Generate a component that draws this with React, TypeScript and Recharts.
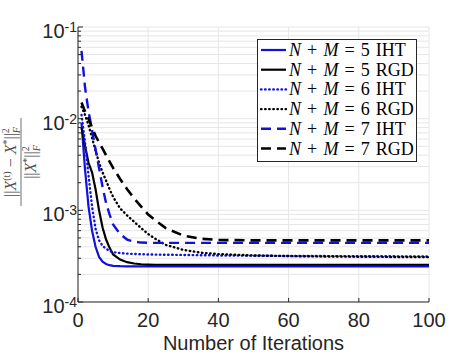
import { LineChart, Line, XAxis, YAxis, CartesianGrid, Legend } from 'recharts'

// iterations sampled on the x axis
const iterations = [1, 2, 3, 4, 5, 6, 7, 8, 9, 10, 12, 14, 16, 18, 20, 22, 25, 30, 35, 40, 50, 60, 70, 80, 90, 100]

// relative error per iteration
const iht5 = [9e-3, 2.8e-3, 1.1e-3, 6e-4, 4e-4, 3.1e-4, 2.75e-4, 2.6e-4, 2.52e-4, 2.48e-4, 2.46e-4, 2.45e-4, 2.45e-4, 2.45e-4, 2.45e-4, 2.45e-4, 2.45e-4, 2.45e-4, 2.45e-4, 2.45e-4, 2.45e-4, 2.45e-4, 2.45e-4, 2.45e-4, 2.45e-4, 2.45e-4]
const rgd5 = [8e-3, 5e-3, 3.3e-3, 2.6e-3, 1.7e-3, 1e-3, 6.5e-4, 4.8e-4, 3.9e-4, 3.3e-4, 2.9e-4, 2.72e-4, 2.63e-4, 2.58e-4, 2.56e-4, 2.55e-4, 2.55e-4, 2.55e-4, 2.55e-4, 2.55e-4, 2.55e-4, 2.55e-4, 2.55e-4, 2.55e-4, 2.55e-4, 2.55e-4]
const iht6 = [1.1e-2, 5.5e-3, 2.4e-3, 1.1e-3, 6.3e-4, 4.7e-4, 4.1e-4, 3.8e-4, 3.6e-4, 3.5e-4, 3.42e-4, 3.37e-4, 3.34e-4, 3.32e-4, 3.3e-4, 3.29e-4, 3.28e-4, 3.26e-4, 3.24e-4, 3.22e-4, 3.2e-4, 3.18e-4, 3.17e-4, 3.16e-4, 3.15e-4, 3.14e-4]
const rgd6 = [1.35e-2, 1.1e-2, 8.5e-3, 6.2e-3, 4.5e-3, 3.3e-3, 2.6e-3, 2.1e-3, 1.7e-3, 1.4e-3, 1.05e-3, 8.8e-4, 7.5e-4, 6.4e-4, 5.5e-4, 4.9e-4, 4.2e-4, 3.7e-4, 3.45e-4, 3.33e-4, 3.22e-4, 3.17e-4, 3.14e-4, 3.12e-4, 3.1e-4, 3.09e-4]
const iht7 = [5.5e-2, 2.2e-2, 1.2e-2, 7.5e-3, 4.6e-3, 2.9e-3, 1.8e-3, 1.2e-3, 9e-4, 7e-4, 5.5e-4, 4.8e-4, 4.55e-4, 4.45e-4, 4.42e-4, 4.42e-4, 4.42e-4, 4.42e-4, 4.42e-4, 4.42e-4, 4.42e-4, 4.42e-4, 4.42e-4, 4.42e-4, 4.42e-4, 4.42e-4]
const rgd7 = [1.5e-2, 1.2e-2, 1e-2, 8e-3, 6.5e-3, 5.5e-3, 4.7e-3, 4e-3, 3.4e-3, 2.9e-3, 2.2e-3, 1.7e-3, 1.35e-3, 1.1e-3, 9e-4, 7.8e-4, 6.4e-4, 5.3e-4, 4.9e-4, 4.75e-4, 4.7e-4, 4.7e-4, 4.7e-4, 4.7e-4, 4.7e-4, 4.7e-4]

// axis ticks (log axis: decades + minor 2..9)
const xTicks = [0, 20, 40, 60, 80, 100]
const yTicks = [
  1e-4, 2e-4, 3e-4, 4e-4, 5e-4, 6e-4, 7e-4, 8e-4, 9e-4,
  1e-3, 2e-3, 3e-3, 4e-3, 5e-3, 6e-3, 7e-3, 8e-3, 9e-3,
  1e-2, 2e-2, 3e-2, 4e-2, 5e-2, 6e-2, 7e-2, 8e-2, 9e-2,
  1e-1,
]

const BLUE = '#1010e0'
const BLACK = '#000000'
const AXIS = '#262626'
const SANS = "'Liberation Sans', Arial, Helvetica, sans-serif"
const SERIF = "'Liberation Serif', 'Times New Roman', serif"

const series = [
  { key: 'iht5', n: 5, alg: 'IHT', values: iht5, color: BLUE, width: 2.2, dash: undefined as string | undefined, cap: 'butt' },
  { key: 'rgd5', n: 5, alg: 'RGD', values: rgd5, color: BLACK, width: 2.2, dash: undefined, cap: 'butt' },
  { key: 'iht6', n: 6, alg: 'IHT', values: iht6, color: BLUE, width: 2.4, dash: '0.5 3.6', cap: 'round' },
  { key: 'rgd6', n: 6, alg: 'RGD', values: rgd6, color: BLACK, width: 2.4, dash: '0.5 3.6', cap: 'round' },
  { key: 'iht7', n: 7, alg: 'IHT', values: iht7, color: BLUE, width: 2.4, dash: '10 6', cap: 'butt' },
  { key: 'rgd7', n: 7, alg: 'RGD', values: rgd7, color: BLACK, width: 2.6, dash: '10 6', cap: 'butt' },
]

const data = iterations.map((it, i) => {
  const row: Record<string, number> = { iter: it }
  series.forEach((s) => {
    row[s.key] = s.values[i]
  })
  return row
})

const isDecade = (v: number) => Math.abs(Math.log10(v) - Math.round(Math.log10(v))) < 1e-6

// y ticks on the left: inward tick marks, 10^k labels
const LeftTick = ({ x, y, payload }: any) => {
  const major = isDecade(payload.value)
  const exp = Math.round(Math.log10(payload.value))
  return (
    <g>
      <line x1={x} x2={x + (major ? 5 : 3)} y1={y} y2={y} stroke={AXIS} strokeWidth={1} />
      {major && (
        <text x={x - 1} y={y + 11} textAnchor="end" fontSize={20} fill={AXIS} fontFamily={SANS}>
          <tspan>10</tspan>
          <tspan dy={-6} fontSize={14}>{String(exp)}</tspan>
        </text>
      )}
    </g>
  )
}

const RightTick = ({ x, y, payload }: any) => {
  const major = isDecade(payload.value)
  return <line x1={x} x2={x - (major ? 5 : 3)} y1={y} y2={y} stroke={AXIS} strokeWidth={1} />
}

const BottomTick = ({ x, y, payload }: any) => (
  <g>
    <line x1={x} x2={x} y1={y} y2={y - 4} stroke={AXIS} strokeWidth={1} />
    <text x={x} y={y + 25} textAnchor="middle" fontSize={20} fill={AXIS} fontFamily={SANS}>
      {payload.value}
    </text>
  </g>
)

const TopTick = ({ x, y }: any) => <line x1={x} x2={x} y1={y} y2={y + 4} stroke={AXIS} strokeWidth={1} />

const renderLegend = () => (
  <svg width={161} height={124} style={{ display: 'block' }}>
    <rect x={0.5} y={0.5} width={159} height={122} fill="#fff" stroke={AXIS} strokeWidth={1} />
    {series.map((s, i) => {
      const cy = 11 + i * 19.7
      return (
        <g key={s.key}>
          <line
            x1={4}
            x2={29}
            y1={cy}
            y2={cy}
            stroke={s.color}
            strokeWidth={s.width}
            strokeDasharray={s.dash}
            strokeLinecap={s.cap as any}
          />
          <text x={32} y={cy + 6} fontSize={18} fill="#000" fontFamily={SERIF} style={{ whiteSpace: 'pre' }} wordSpacing={1.6}>
            <tspan fontStyle="italic">N</tspan>
            <tspan> + </tspan>
            <tspan fontStyle="italic">M</tspan>
            <tspan>{` = ${s.n} ${s.alg}`}</tspan>
          </text>
        </g>
      )
    })}
  </svg>
)

// rotated fraction used as the y axis label
const YLabel = () => (
  <svg width={60} height={356} style={{ position: 'absolute', left: 0, top: 0, pointerEvents: 'none' }}>
    <g transform="translate(21,162) rotate(-90)" fill="#4d4d4d" fontFamily={SERIF}>
      <text x={0} y={-5} textAnchor="middle" fontSize={16} style={{ whiteSpace: 'pre' }}>
        <tspan>||</tspan>
        <tspan fontStyle="italic">X</tspan>
        <tspan dy={-6} fontSize={10}>(t)</tspan>
        <tspan dy={6}> − </tspan>
        <tspan fontStyle="italic">X</tspan>
        <tspan dy={-6} fontSize={10}>*</tspan>
        <tspan dy={6}>||</tspan>
        <tspan dy={-7} fontSize={10}>2</tspan>
        <tspan dx={-5} dy={11} fontSize={10} fontStyle="italic">F</tspan>
      </text>
      <line x1={-44} x2={44} y1={0} y2={0} stroke="#4d4d4d" strokeWidth={0.8} />
      <text x={0} y={15} textAnchor="middle" fontSize={16} style={{ whiteSpace: 'pre' }}>
        <tspan>||</tspan>
        <tspan fontStyle="italic">X</tspan>
        <tspan dy={-6} fontSize={10}>*</tspan>
        <tspan dy={6}>||</tspan>
        <tspan dy={-7} fontSize={10}>2</tspan>
        <tspan dx={-5} dy={11} fontSize={10} fontStyle="italic">F</tspan>
      </text>
    </g>
  </svg>
)

export default function App() {
  return (
    <div style={{ position: 'absolute', left: 0, top: 0, width: 474, height: 356, background: '#fff' }}>
      <LineChart width={474} height={356} data={data} margin={{ top: 27, right: 45, bottom: 24, left: 0 }}>
        <CartesianGrid stroke="#e6e6e6" strokeWidth={1} />
        <XAxis
          dataKey="iter"
          type="number"
          domain={[0, 100]}
          ticks={xTicks}
          height={30}
          tickSize={0}
          tickMargin={0}
          tick={<BottomTick />}
          axisLine={{ stroke: AXIS }}
          label={{ value: 'Number of Iterations', position: 'bottom', offset: 4, fontSize: 20, fill: AXIS, fontFamily: SANS }}
        />
        <XAxis
          xAxisId="top"
          orientation="top"
          type="number"
          domain={[0, 100]}
          ticks={xTicks}
          height={0}
          tickSize={0}
          tickMargin={0}
          tick={<TopTick />}
          axisLine={{ stroke: AXIS }}
        />
        <YAxis
          type="number"
          scale="log"
          domain={[1e-4, 1e-1]}
          allowDataOverflow
          ticks={yTicks}
          interval={0}
          width={78}
          tickSize={0}
          tickMargin={0}
          tick={<LeftTick />}
          axisLine={{ stroke: AXIS }}
        />
        <YAxis
          yAxisId="right"
          orientation="right"
          type="number"
          scale="log"
          domain={[1e-4, 1e-1]}
          allowDataOverflow
          ticks={yTicks}
          interval={0}
          width={0}
          tickSize={0}
          tickMargin={0}
          tick={<RightTick />}
          axisLine={{ stroke: AXIS }}
        />
        <Legend
          layout="vertical"
          align="center"
          verticalAlign="middle"
          content={renderLegend}
          wrapperStyle={{ left: 257, top: 39, width: 161, height: 124 }}
        />
        {series.map((s) => (
          <Line
            key={s.key}
            type="linear"
            dataKey={s.key}
            stroke={s.color}
            strokeWidth={s.width}
            strokeDasharray={s.dash}
            strokeLinecap={s.cap as any}
            dot={false}
            activeDot={false}
            isAnimationActive={false}
          />
        ))}
      </LineChart>
      <YLabel />
    </div>
  )
}
